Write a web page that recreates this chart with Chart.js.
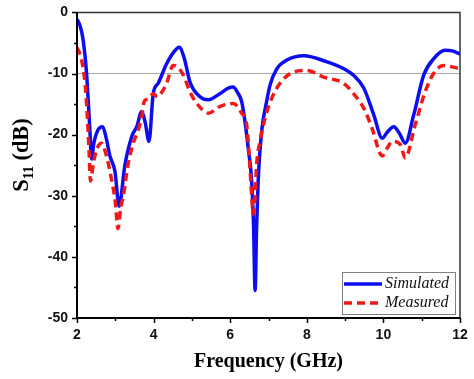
<!DOCTYPE html>
<html>
<head>
<meta charset="utf-8">
<script src="https://cdn.jsdelivr.net/npm/chart.js@4"></script>
<style>
html,body{margin:0;padding:0;background:#fff;}
#wrap{width:474px;height:379px;}
</style>
</head>
<body>
<div id="wrap"><canvas id="c" width="474" height="379"></canvas></div>
<script>
// ---- data ----
const simFreq = [2.0,2.08,2.16,2.25,2.34,2.38,2.44,2.55,2.67,2.76,2.86,2.99,3.1,3.25,3.43,3.56,3.69,3.78,3.88,3.99,4.12,4.34,4.55,4.67,4.8,4.95,5.21,5.43,5.73,5.95,6.08,6.2,6.3,6.4,6.47,6.56,6.61,6.65,6.69,6.73,6.82,6.95,7.04,7.22,7.48,7.92,8.53,8.96,9.22,9.49,9.75,9.97,10.1,10.27,10.42,10.57,10.79,11.05,11.31,11.61,11.8,12.0];
const simS11 = [-1.1,-2.2,-4.5,-10,-19.7,-24,-21.4,-19.2,-18.7,-20.5,-23.5,-26,-31.7,-25,-20.3,-18.7,-16.2,-18,-21.1,-13.3,-11.6,-8.4,-6.3,-5.7,-7.5,-11.4,-13.8,-14.3,-13.3,-12.4,-12.2,-13.2,-14.6,-18.5,-22.2,-27.6,-35,-45.5,-35,-27.6,-19.5,-14.6,-11.9,-9.2,-7.8,-7.1,-8.1,-9.2,-10.3,-12.4,-16.8,-20.6,-19.6,-18.7,-19.8,-21.4,-16.8,-10.3,-7.6,-6.2,-6.3,-6.8];
const measFreq = [2.0,2.12,2.21,2.27,2.32,2.35,2.43,2.51,2.64,2.77,2.9,3.0,3.07,3.14,3.21,3.34,3.47,3.6,3.69,3.76,3.85,3.99,4.1,4.2,4.34,4.51,4.62,4.78,4.95,5.13,5.43,5.73,6.08,6.3,6.43,6.5,6.56,6.6,6.65,6.69,6.78,6.91,7.08,7.3,7.57,8.0,8.44,8.96,9.22,9.49,9.7,9.97,10.1,10.23,10.44,10.57,10.83,11.09,11.31,11.57,12.0];
const measS11 = [-5.7,-7.8,-11.6,-17,-23.5,-27.6,-24.6,-22.5,-21.4,-23.5,-27.3,-31,-35.4,-32,-30,-24.6,-21.4,-19.2,-17,-14.5,-14.2,-13.3,-13.8,-13.2,-11.6,-8.7,-8.9,-10.3,-13,-14.9,-16.5,-15.4,-14.9,-16.5,-18.4,-23.8,-30,-33,-30,-24.9,-21.1,-17.3,-14.1,-11.6,-10,-9.5,-10.6,-11.6,-13.3,-15.7,-18.9,-23.5,-22.2,-21.1,-21.6,-23.8,-18.4,-13,-10,-8.7,-9.2];
const refFreq = [2, 12];
const refLevel = [-10, -10];
const seriesNames = ['Simulated', 'Measured'];
const xTickLabels = ['2','4','6','8','10','12'];
const yTickLabels = ['0','-10','-20','-30','-40','-50'];

const BLUE = '#0d0df2';
const RED = '#f21818';

function pts(xs, ys){ return xs.map((x,i)=>({x:x, y:ys[i]})); }

const decor = {
  id:'decor',
  afterDraw(chart){
    const ctx = chart.ctx, a = chart.chartArea;
    const xs = chart.scales.x, ys = chart.scales.y;
    ctx.save();
    // frame
    ctx.strokeStyle = '#333';
    ctx.lineWidth = 1.5;
    ctx.beginPath();
    ctx.moveTo(a.left, a.top); ctx.lineTo(a.right, a.top); ctx.lineTo(a.right, a.bottom);
    ctx.stroke();
    ctx.strokeStyle = '#000';
    ctx.lineWidth = 2;
    ctx.beginPath();
    ctx.moveTo(a.left, a.top); ctx.lineTo(a.left, a.bottom); ctx.lineTo(a.right, a.bottom);
    ctx.stroke();
    // ticks
    ctx.lineWidth = 1.5;
    ctx.beginPath();
    for (let v = 2; v <= 12; v += 1) {
      const px = Math.round(xs.getPixelForValue(v)) + 0.5;
      const len = (v % 2 === 0) ? 5 : 3;
      ctx.moveTo(px, a.bottom); ctx.lineTo(px, a.bottom + len);
    }
    for (let v = 0; v >= -50; v -= 5) {
      const py = Math.round(ys.getPixelForValue(v)) + 0.5;
      const len = (v % 10 === 0) ? 5 : 3;
      ctx.moveTo(a.left, py); ctx.lineTo(a.left - len, py);
    }
    ctx.stroke();
    // x title
    ctx.fillStyle = '#000';
    ctx.font = 'bold 20px "Liberation Serif", "Times New Roman", serif';
    ctx.textAlign = 'center';
    ctx.textBaseline = 'middle';
    ctx.fillText('Frequency (GHz)', (a.left + a.right) / 2, 362);
    // y title with subscript
    ctx.save();
    ctx.translate(28, 155);
    ctx.rotate(-Math.PI / 2);
    ctx.scale(0.93, 1);
    ctx.textBaseline = 'alphabetic';
    ctx.textAlign = 'left';
    const fMain = 'bold 24px "Liberation Serif", "Times New Roman", serif';
    const fSub = 'bold 15px "Liberation Serif", "Times New Roman", serif';
    ctx.font = fMain; const wS = ctx.measureText('S').width;
    const wR = ctx.measureText(' (dB)').width;
    ctx.font = fSub; const w11 = ctx.measureText('11').width;
    const total = wS + w11 + wR;
    let x0 = -total / 2;
    ctx.font = fMain; ctx.fillText('S', x0, 0); x0 += wS;
    ctx.font = fSub; ctx.fillText('11', x0, 5); x0 += w11;
    ctx.font = fMain; ctx.fillText(' (dB)', x0, 0);
    ctx.restore();
    // legend
    const bx = 342, by = 272, bw = 113, bh = 42;
    ctx.fillStyle = '#fff';
    ctx.fillRect(bx, by, bw, bh);
    ctx.strokeStyle = '#808080';
    ctx.lineWidth = 1;
    ctx.strokeRect(bx + 0.5, by + 0.5, bw, bh);
    const rows = [284, 303];
    chart.data.datasets.filter(d => seriesNames.includes(d.label))
      .sort((p, q) => seriesNames.indexOf(p.label) - seriesNames.indexOf(q.label))
      .forEach((d, i) => {
        const yy = rows[i];
        ctx.save();
        ctx.strokeStyle = d.borderColor;
        ctx.lineWidth = d.borderWidth;
        ctx.setLineDash(d.borderDash || []);
        ctx.beginPath(); ctx.moveTo(344, yy); ctx.lineTo(382, yy); ctx.stroke();
        ctx.restore();
        ctx.fillStyle = '#111';
        ctx.font = 'italic 16px "Liberation Serif", "Times New Roman", serif';
        ctx.textAlign = 'left';
        ctx.textBaseline = 'middle';
        ctx.fillText(d.label, 385, yy);
      });
    ctx.restore();
  }
};

new Chart(document.getElementById('c'), {
  type: 'line',
  data: {
    datasets: [
      { label: seriesNames[1], data: pts(measFreq, measS11), borderColor: RED, borderWidth: 3.5,
        borderDash: [8, 5], borderCapStyle: 'butt', pointRadius: 0, cubicInterpolationMode: 'monotone', order: 0 },
      { label: seriesNames[0], data: pts(simFreq, simS11), borderColor: BLUE, borderWidth: 3.5,
        pointRadius: 0, cubicInterpolationMode: 'monotone', order: 1 },
      { label: 'ref', data: pts(refFreq, refLevel), borderColor: '#a8a8a8', borderWidth: 1,
        pointRadius: 0, tension: 0, order: 2 }
    ]
  },
  options: {
    responsive: false,
    animation: false,
    events: [],
    layout: { padding: { top: 10, right: 14, left: 0, bottom: 0 } },
    plugins: { legend: { display: false }, tooltip: { enabled: false } },
    scales: {
      x: {
        type: 'linear', min: 2, max: 12,
        afterFit(s){ s.height = 61; },
        grid: { display: true, drawOnChartArea: false, drawTicks: true, tickLength: 5, color: 'rgba(0,0,0,0)' },
        border: { display: false },
        ticks: {
          stepSize: 2, padding: 4, color: '#111',
          font: { family: '"Liberation Sans", Arial, sans-serif', size: 14, weight: 'bold' },
          maxRotation: 0,
          callback: (v) => { const i = xTickLabels.indexOf(String(v)); return i >= 0 ? xTickLabels[i] : ''; }
        }
      },
      y: {
        type: 'linear', min: -50, max: 0,
        afterFit(s){ s.width = 77; },
        grid: { display: true, drawOnChartArea: false, drawTicks: true, tickLength: 5, color: 'rgba(0,0,0,0)' },
        border: { display: false },
        ticks: {
          stepSize: 10, padding: 4, color: '#111',
          font: { family: '"Liberation Sans", Arial, sans-serif', size: 14, weight: 'bold' },
          callback: (v) => { const i = yTickLabels.indexOf(String(v)); return i >= 0 ? yTickLabels[i] : ''; }
        }
      }
    }
  },
  plugins: [decor]
});
</script>
</body>
</html>
